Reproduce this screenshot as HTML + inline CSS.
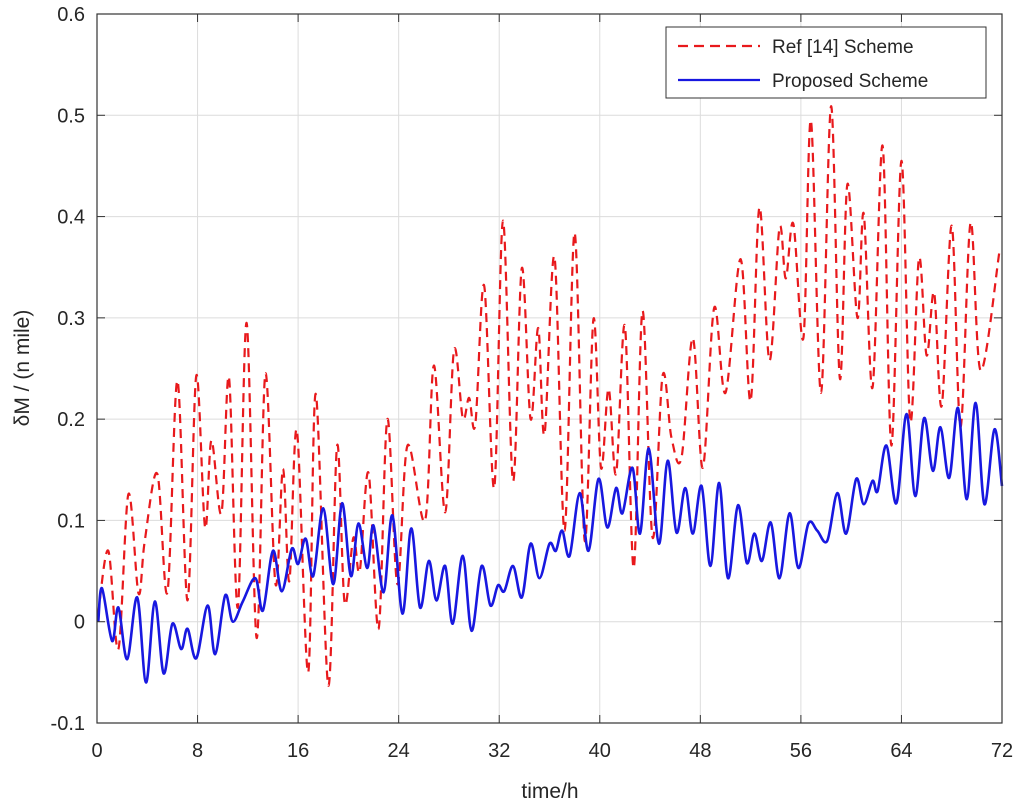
<!DOCTYPE html>
<html><head><meta charset="utf-8"><style>
body{margin:0;background:#fff;}
svg{display:block;font-family:"Liberation Sans",sans-serif;}
</style></head><body>
<svg id="chart" width="1025" height="812">
<g id="grid"></g>
<g id="series"></g>
<g id="axes"></g>
<text x="550" y="798" font-size="21" text-anchor="middle" fill="#262626">time/h</text>
<text transform="translate(29,368) rotate(-90)" font-size="21" text-anchor="middle" fill="#262626">δM / (n mile)</text>
<g>
<rect x="666" y="27" width="320" height="71" fill="#fff" stroke="#333" stroke-width="1"/>
<line x1="678" y1="46" x2="760" y2="46" stroke="#e8191c" stroke-width="2.2" stroke-dasharray="10,6"/>
<text x="772" y="53" font-size="19" fill="#262626">Ref [14]  Scheme</text>
<line x1="678" y1="80" x2="760" y2="80" stroke="#1818e0" stroke-width="2.2"/>
<text x="772" y="87" font-size="19" fill="#262626">Proposed Scheme</text>
</g>
</svg>
<script>
const xTicks=[0,8,16,24,32,40,48,56,64,72];
const yTicks=[-0.1,0,0.1,0.2,0.3,0.4,0.5,0.6];
const yTickLabels=["-0.1","0","0.1","0.2","0.3","0.4","0.5","0.6"];
const blueT=[0.1,0.4,1.2,1.7,2.4,3.2,3.9,4.6,5.3,6.0,6.7,7.2,7.9,8.8,9.4,10.2,10.8,11.6,12.6,13.2,14.0,14.7,15.5,16.0,16.6,17.2,18.0,18.8,19.5,20.2,20.8,21.5,22.0,22.8,23.5,24.3,25.0,25.7,26.4,27.0,27.7,28.3,29.1,29.8,30.6,31.3,31.9,32.4,33.1,33.8,34.5,35.2,36.0,36.5,37.0,37.6,38.4,39.1,39.9,40.6,41.3,41.8,42.6,43.2,43.9,44.7,45.4,46.1,46.8,47.4,48.1,48.8,49.5,50.2,51.0,51.7,52.3,52.9,53.6,54.3,55.1,55.8,56.6,57.3,58.1,58.9,59.6,60.4,61.0,61.7,62.1,62.8,63.6,64.4,65.1,65.8,66.5,67.1,67.8,68.5,69.2,69.9,70.6,71.4,72.0];
const blueV=[0,0.033,-0.019,0.014,-0.037,0.024,-0.06,0.02,-0.051,-0.002,-0.027,-0.007,-0.036,0.016,-0.032,0.026,0,0.02,0.043,0.011,0.07,0.03,0.072,0.057,0.082,0.045,0.112,0.037,0.117,0.045,0.097,0.053,0.095,0.029,0.105,0.008,0.092,0.014,0.06,0.021,0.055,-0.002,0.065,-0.009,0.055,0.016,0.036,0.03,0.055,0.024,0.077,0.043,0.077,0.07,0.09,0.065,0.127,0.07,0.141,0.093,0.132,0.107,0.152,0.087,0.171,0.077,0.159,0.088,0.132,0.087,0.134,0.055,0.137,0.043,0.115,0.058,0.087,0.06,0.098,0.043,0.107,0.053,0.097,0.09,0.08,0.127,0.087,0.141,0.116,0.139,0.129,0.174,0.117,0.205,0.124,0.201,0.149,0.192,0.142,0.211,0.121,0.216,0.116,0.19,0.134];
const redT=[0.1,0.9,1.7,2.5,3.3,3.8,4.8,5.6,6.4,7.2,7.9,8.6,9.1,9.9,10.5,11.2,11.9,12.7,13.4,14.2,14.8,15.3,15.9,16.8,17.4,18.4,19.1,19.7,20.4,20.9,21.6,22.4,23.1,23.9,24.7,26.1,26.8,27.7,28.4,29.1,29.6,30.1,30.8,31.6,32.3,33.1,33.8,34.5,35.1,35.6,36.4,37.2,38.0,38.8,39.5,40.1,40.7,41.3,42.0,42.7,43.4,44.2,45.0,45.7,46.5,47.4,48.2,49.1,50.0,51.2,52.0,52.7,53.5,54.3,54.8,55.4,56.2,56.8,57.6,58.4,59.1,59.7,60.5,61.0,61.7,62.5,63.2,64.0,64.7,65.4,66.0,66.6,67.2,68.0,68.7,69.5,70.3,71.8];
const redV=[0.008,0.07,-0.027,0.126,0.028,0.08,0.146,0.029,0.238,0.021,0.243,0.093,0.179,0.107,0.241,0.014,0.295,-0.016,0.245,0.037,0.151,0.04,0.189,-0.05,0.225,-0.063,0.174,0.019,0.083,0.05,0.147,-0.007,0.2,0.037,0.174,0.1,0.253,0.108,0.268,0.201,0.221,0.195,0.332,0.132,0.396,0.139,0.349,0.2,0.29,0.185,0.36,0.09,0.384,0.08,0.299,0.152,0.23,0.146,0.292,0.053,0.307,0.083,0.243,0.182,0.162,0.28,0.152,0.31,0.226,0.358,0.218,0.409,0.258,0.389,0.339,0.393,0.28,0.495,0.226,0.509,0.24,0.432,0.3,0.403,0.231,0.47,0.174,0.455,0.198,0.359,0.263,0.325,0.213,0.391,0.192,0.394,0.248,0.366];

const X0=97,X1=1002,Y0=723,Y1=14;
const sx=t=>X0+(t-0)/(72-0)*(X1-X0);
const sy=v=>Y0-(v+0.1)/(0.7)*(Y0-Y1);
const NS="http://www.w3.org/2000/svg";
const grid=document.getElementById('grid'),axes=document.getElementById('axes'),series=document.getElementById('series');
function mk(tag,attrs,parent){const e=document.createElementNS(NS,tag);for(const k in attrs)e.setAttribute(k,attrs[k]);parent.appendChild(e);return e;}
xTicks.forEach(t=>{
  const g=mk('line',{x1:sx(t),x2:sx(t),y1:Y1,y2:Y0,stroke:'#dcdcdc','stroke-width':1},grid);
  
  
  mk('line',{x1:sx(t),x2:sx(t),y1:Y0,y2:Y0-8,stroke:'#333'},axes);
  mk('line',{x1:sx(t),x2:sx(t),y1:Y1,y2:Y1+8,stroke:'#333'},axes);
  const l=mk('text',{x:sx(t),y:757,'font-size':20,'text-anchor':'middle',fill:'#262626'},axes);
  l.textContent=String(t);
  
  
});
yTicks.forEach((v,i)=>{
  const g=mk('line',{x1:X0,x2:X1,y1:sy(v),y2:sy(v),stroke:'#dcdcdc','stroke-width':1},grid);
  
  
  mk('line',{x1:X0,x2:X0+8,y1:sy(v),y2:sy(v),stroke:'#333'},axes);
  mk('line',{x1:X1,x2:X1-8,y1:sy(v),y2:sy(v),stroke:'#333'},axes);
  const l=mk('text',{x:85,y:sy(v)+7,'font-size':20,'text-anchor':'end',fill:'#262626'},axes);
  l.textContent=yTickLabels[i];
  
  
});
const box=mk('rect',{x:X0,y:Y1,width:X1-X0,height:Y0-Y1,fill:'none',stroke:'#333','stroke-width':1.2},axes);


function smooth(T,V){
  const p=T.map((t,i)=>[sx(t),sy(V[i])]);
  let d='M'+p[0][0]+','+p[0][1];
  for(let i=0;i<p.length-1;i++){
    const a=p[Math.max(0,i-1)],b=p[i],c=p[i+1],e=p[Math.min(p.length-1,i+2)];
    const c1=[b[0]+(c[0]-a[0])/6,b[1]+(c[1]-a[1])/6],c2=[c[0]-(e[0]-b[0])/6,c[1]-(e[1]-b[1])/6];
    d+=' C'+c1[0].toFixed(1)+','+c1[1].toFixed(1)+' '+c2[0].toFixed(1)+','+c2[1].toFixed(1)+' '+c[0].toFixed(1)+','+c[1].toFixed(1);
  }
  return d;
}
const red=mk('path',{d:smooth(redT,redV),fill:'none',stroke:'#e8191c','stroke-width':2.2,'stroke-dasharray':'9,6'},series);


const blue=mk('path',{d:smooth(blueT,blueV),fill:'none',stroke:'#1818e0','stroke-width':2.6},series);


</script>
</body></html>
